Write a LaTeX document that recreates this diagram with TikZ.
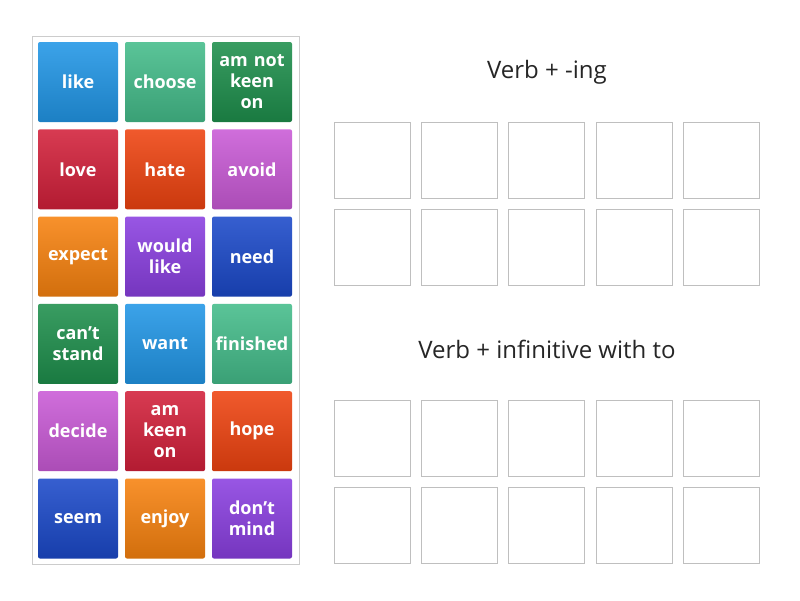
\documentclass[tikz,border=0pt]{standalone}
\usepackage{fontspec}
\setmainfont{Open Sans}
\begin{document}
\begin{tikzpicture}[x=1pt,y=-1pt,
  tile/.style={minimum width=80pt,minimum height=80pt,rounded corners=2pt,inner sep=1pt,
    text=white,font=\fontsize{18}{21}\selectfont\bfseries,align=center,text width=76pt},
  slot/.style={draw=black!25,line width=1pt,minimum width=76pt,minimum height=76pt,inner sep=0pt},
  ttl/.style={font=\fontsize{24}{28}\selectfont,text=black!85}]
\useasboundingbox (0,0) rectangle (800,600);
\fill[white] (0,0) rectangle (800,600);
\node[draw=black!20,line width=1pt,minimum width=267pt,minimum height=528pt,inner sep=0pt] (panel) at (165.5,300) {};
\definecolor{cblue}{HTML}{2196E6}
\definecolor{cgreen}{HTML}{44BC8A}
\definecolor{cdgreen}{HTML}{1E8F4C}
\definecolor{cred}{HTML}{D2203A}
\definecolor{cored}{HTML}{EE4310}
\definecolor{cpink}{HTML}{C95AD6}
\definecolor{corange}{HTML}{F7820F}
\definecolor{cpurple}{HTML}{8A3FE0}
\definecolor{cnavy}{HTML}{1B49C9}
\foreach \t/\c/\col/\row [count=\i] in {
  like/cblue/0/0, choose/cgreen/1/0, {am not\\keen\\on}/cdgreen/2/0,
  love/cred/0/1, hate/cored/1/1, avoid/cpink/2/1,
  expect/corange/0/2, {would\\like}/cpurple/1/2, need/cnavy/2/2,
  {can't\\stand}/cdgreen/0/3, want/cblue/1/3, finished/cgreen/2/3,
  decide/cpink/0/4, {am\\keen\\on}/cred/1/4, hope/cored/2/4,
  seem/cnavy/0/5, enjoy/corange/1/5, {don't\\mind}/cpurple/2/5}
  \node[tile,top color=\c!88!white,bottom color=\c!85!black] (t\i) at (78+87*\col,82+87.3*\row) {\t};
\node[ttl] (h1) at (547,72) {Verb + -ing};
\node[ttl] (h2) at (547,349) {Verb + infinitive with to};
\foreach \x [count=\i] in {372,459,546.5,634,721.5}{
  \node[slot] (a\i) at (\x,160) {};
  \node[slot] (b\i) at (\x,247) {};
  \node[slot] (c\i) at (\x,438) {};
  \node[slot] (d\i) at (\x,525) {};
}
\end{tikzpicture}
\end{document}
